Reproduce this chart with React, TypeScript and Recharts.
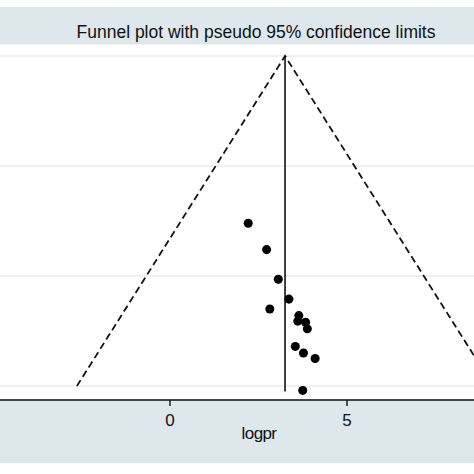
import { ScatterChart, Scatter, XAxis, YAxis, ZAxis, CartesianGrid } from "recharts";

// study estimates: logpr (x) vs standard error of logpr (y)
const LOGPR = [2.21, 2.73, 3.06, 3.36, 2.82, 3.64, 3.61, 3.83, 3.88, 3.54, 3.77, 4.1, 3.75];
const SE = [1.52, 1.76, 2.03, 2.21, 2.3, 2.36, 2.41, 2.42, 2.48, 2.64, 2.7, 2.75, 3.04];

// pooled estimate and funnel extent
const POOLED = 3.25;
const MAX_SE = 3.0;
const LINE_SE = 3.05;
const X_TICKS = [0, 5];
const SE_TICKS = [0, 1, 2, 3];

const studies = LOGPR.map((x, i) => ({ x, y: SE[i] }));
const funnel = [
    { x: POOLED - 1.96 * MAX_SE, y: MAX_SE },
    { x: POOLED, y: 0 },
    { x: POOLED + 1.96 * MAX_SE, y: MAX_SE },
];
const pooledLine = [
    { x: POOLED, y: 0 },
    { x: POOLED, y: LINE_SE },
];

const FONT = "'Liberation Sans', Arial, sans-serif";
const BAND = "#dde7ec";

export default function App() {
    return (
        <div style={{ position: "absolute", left: 0, top: 0, width: 474, height: 474, background: "#fff", overflow: "hidden" }}>
            <div style={{ position: "absolute", left: 0, top: 7, width: 474, height: 456, background: BAND }} />
            <div
                style={{
                    position: "absolute",
                    left: 0,
                    top: 22,
                    width: 512,
                    textAlign: "center",
                    fontFamily: FONT,
                    fontSize: 17.5,
                    color: "#111",
                    lineHeight: "20px",
                }}
            >
                Funnel plot with pseudo 95% confidence limits
            </div>
            <div style={{ position: "absolute", left: 0, top: 0 }}>
                <ScatterChart width={474} height={474} margin={{ top: 44, right: 0, bottom: 0, left: 0 }}>
                    <CartesianGrid vertical={false} stroke="#dfe5e7" fill="#fff" />
                    <XAxis
                        type="number"
                        dataKey="x"
                        domain={[-4.802, 8.588]}
                        allowDataOverflow
                        ticks={X_TICKS}
                        height={74}
                        axisLine={{ stroke: "#111", strokeWidth: 1.4 }}
                        tickLine={{ stroke: "#111", strokeWidth: 1.4 }}
                        tickSize={6}
                        tickMargin={8}
                        tick={{ fill: "#111", fontSize: 17, fontFamily: FONT }}
                        label={({ viewBox }: any) => (
                            <text
                                x={viewBox.x + 259}
                                y={viewBox.y + 39}
                                textAnchor="middle"
                                fill="#111"
                                fontSize={17}
                                letterSpacing={-0.6}
                                fontFamily={FONT}
                            >
                                logpr
                            </text>
                        )}
                    />
                    <YAxis type="number" dataKey="y" reversed domain={[-0.109, 3.127]} allowDataOverflow ticks={SE_TICKS} hide />
                    <ZAxis range={[64, 64]} />
                    <Scatter
                        data={funnel}
                        line={{ stroke: "#111", strokeWidth: 1.8, strokeDasharray: "7 4" }}
                        lineType="joint"
                        shape={() => <g />}
                        isAnimationActive={false}
                    />
                    <Scatter
                        data={pooledLine}
                        line={{ stroke: "#111", strokeWidth: 1.6 }}
                        lineType="joint"
                        shape={() => <g />}
                        isAnimationActive={false}
                    />
                    <Scatter data={studies} fill="#000" isAnimationActive={false} />
                </ScatterChart>
            </div>
        </div>
    );
}
